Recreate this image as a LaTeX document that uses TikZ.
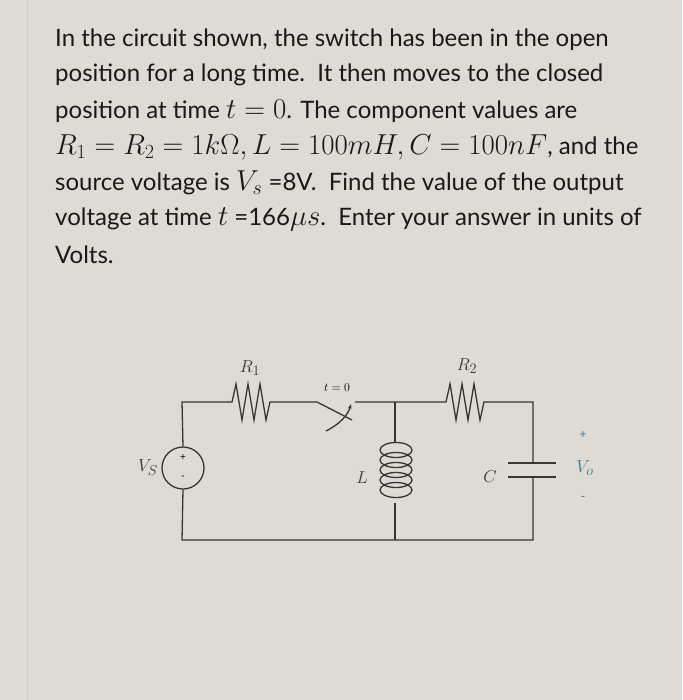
\documentclass[tikz,border=0pt]{standalone}
\usepackage{fontspec}
\setmainfont{Lato}
\usetikzlibrary{arrows.meta}
\definecolor{bg}{HTML}{DEDAD4}
\definecolor{wire}{HTML}{3A3434}
\definecolor{vblue}{HTML}{3A7A9A}
\newcommand\mth[1]{\scalebox{1.16}{$#1$}}
\begin{document}
\begin{tikzpicture}[x=1pt,y=-1pt,
  txt/.style={anchor=west,inner sep=0pt,font=\fontsize{24}{28}\selectfont,text=black!90},
  lbl/.style={inner sep=0pt,font=\fontsize{19}{22}\selectfont,text=wire},
  w/.style={draw=wire,line width=1.3pt}]
\useasboundingbox (0,0) rectangle (682,700);
\fill[bg] (0,0) rectangle (682,700);
\draw[black!20,line width=0.6pt] (27,0) -- (27,700);
\node[txt] (l1) at (55,40) {In the circuit shown, the switch has been in the open};
\node[txt] (l2) at (55,75) {position for a long time.\ \ It then moves to the closed};
\node[txt] (l3) at (55,111) {position at time \mth{t=0}. The component values are};
\node[txt] (l4) at (55,147) {\mth{R_1=R_2=1k\Omega,L=100mH,C=100nF}, and the};
\node[txt] (l5) at (55,183) {source voltage is \mth{V_s} =8V.\ \ Find the value of the output};
\node[txt] (l6) at (55,219) {voltage at time \mth{t} =166\mth{\mu s}.\ \ Enter your answer in units of};
\node[txt] (l7) at (55,255) {Volts.};
\coordinate (tl) at (182,402);
\coordinate (bl) at (182,540);
\coordinate (r1a) at (228,402);
\coordinate (r1b) at (274,402);
\coordinate (swa) at (317,402);
\coordinate (swb) at (355,402);
\coordinate (jt) at (395,402);
\coordinate (jb) at (395,540);
\coordinate (la) at (395,442);
\coordinate (lb) at (395,503);
\coordinate (r2a) at (442,402);
\coordinate (r2b) at (488,402);
\coordinate (tr) at (533,402);
\coordinate (br) at (533,540);
\coordinate (ca) at (533,463);
\coordinate (cb) at (533,477);
\node[circle,draw=wire,line width=1.3pt,minimum size=42pt,inner sep=0pt] (vs) at (183,468) {};
\node[inner sep=0pt,font=\fontsize{10}{11}\selectfont] at (183,458) {+};
\node[inner sep=0pt,font=\fontsize{10}{11}\selectfont] at (183,478) {-};
\node[lbl] at (148,468) {$V_S$};
\draw[w] (vs.north) -- (tl) -- (r1a);
\draw[w] (r1a) -- (232,402) -- (236,384) -- (242,420) -- (248,384) -- (254,420) -- (260,384) -- (266,420) -- (270,402) -- (r1b);
\node[lbl] at (250,368) {$R_1$};
\draw[w] (r1b) -- (swa) -- (352,420);
\draw[w,-{Stealth[length=5pt]}] (326,431) .. controls (340,424) and (348,415) .. (351,404);
\node[inner sep=0pt,font=\fontsize{12}{13}\selectfont] at (337,388) {$t=0$};
\draw[w] (swb) -- (jt) -- (r2a) -- (446,402) -- (450,384) -- (456,420) -- (462,384) -- (468,420) -- (474,384) -- (480,420) -- (484,402) -- (r2b) -- (tr) -- (ca);
\node[lbl] at (467,366) {$R_2$};
\draw[w] (jt) -- (la);
\foreach \k in {0,...,4}{
  \draw[wire,line width=1.3pt] (396,{450+\k*10}) ellipse (16 and 7.5);
}
\draw[w] (lb) -- (jb);
\node[lbl] at (362,478) {$L$};
\draw[w] (vs.south) -- (bl) -- (jb) -- (br) -- (cb);
\draw[w] (508,463) -- (556,463);
\draw[w] (508,477) -- (556,477);
\node[lbl] at (490,477) {$C$};
\node[inner sep=0pt,font=\fontsize{12}{13}\selectfont,text=vblue] at (583,435) {+};
\node[lbl,text=vblue] at (585,468) {$V_o$};
\node[inner sep=0pt,font=\fontsize{12}{13}\selectfont,text=vblue] at (583,498) {-};
\end{tikzpicture}
\end{document}
